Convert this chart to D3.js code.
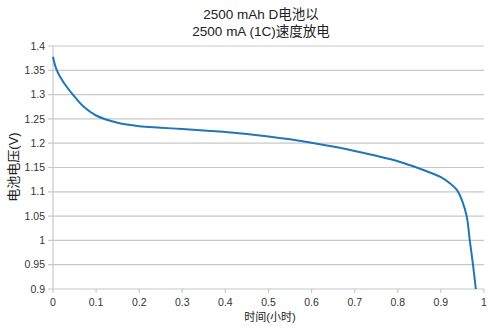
<!DOCTYPE html>
<html><head><meta charset="utf-8">
<script src="https://cdn.jsdelivr.net/npm/d3@7"></script>
<style>
body{margin:0;background:#fff;}
text{font-family:"Liberation Sans","Noto Sans CJK SC",sans-serif;}
</style></head>
<body><svg id="c" width="499" height="329"></svg>
<script>
const titleLines = ["2500 mAh D电池以", "2500 mA (1C)速度放电"];
const xLabel = "时间(小时)";
const yLabel = "电池电压(V)";
const xTicks = [0,0.1,0.2,0.3,0.4,0.5,0.6,0.7,0.8,0.9,1];
const yTicks = [0.9,0.95,1,1.05,1.1,1.15,1.2,1.25,1.3,1.35,1.4];
const timeH = [0,0.008,0.024,0.047,0.07,0.1,0.15,0.2,0.25,0.3,0.35,0.4,0.45,0.5,0.55,0.6,0.65,0.7,0.75,0.8,0.85,0.9,0.92,0.937,0.95,0.96,0.967,0.974,0.981];
const voltage = [1.378,1.352,1.326,1.299,1.276,1.257,1.242,1.235,1.232,1.229,1.226,1.223,1.219,1.214,1.208,1.201,1.193,1.184,1.174,1.163,1.148,1.13,1.118,1.104,1.08,1.049,1.0,0.953,0.9];

const svg = d3.select("#c");
const L=53, R=484, T=46, B=289;
const x = d3.scaleLinear().domain([0,1]).range([L,R]);
const y = d3.scaleLinear().domain([0.9,1.4]).range([B,T]);

svg.append("g").selectAll("line").data(yTicks).join("line")
  .attr("x1",L-5).attr("x2",R).attr("y1",d=>y(d)).attr("y2",d=>y(d))
  .attr("stroke","#c8c8c8").attr("stroke-width",1.2);
svg.append("line").attr("x1",L).attr("x2",L).attr("y1",T).attr("y2",B)
  .attr("stroke","#c8c8c8").attr("stroke-width",1.2);
svg.append("g").selectAll("line").data(xTicks).join("line")
  .attr("x1",d=>x(d)).attr("x2",d=>x(d)).attr("y1",B).attr("y2",B+4)
  .attr("stroke","#c8c8c8").attr("stroke-width",1.2);

const fmt = d=>String(+d.toFixed(2));
svg.append("g").selectAll("text").data(yTicks).join("text")
  .attr("x",45).attr("y",d=>y(d)).attr("dy","0.35em").attr("text-anchor","end")
  .attr("font-size",10.5).attr("fill","#333").text(fmt);
svg.append("g").selectAll("text").data(xTicks).join("text")
  .attr("x",d=>x(d)).attr("y",302).attr("dy","0.35em").attr("text-anchor","middle")
  .attr("font-size",10.5).attr("fill","#333").text(fmt);

const pts = timeH.map((t,i)=>[t,voltage[i]]);
svg.append("path").datum(pts)
  .attr("d", d3.line().x(d=>x(d[0])).y(d=>y(d[1])).curve(d3.curveCatmullRom.alpha(0.5)))
  .attr("fill","none").attr("stroke","#1f77b8").attr("stroke-width",2);

svg.append("g").selectAll("text").data(titleLines).join("text")
  .attr("x",261).attr("y",(d,i)=>14+i*17.5).attr("dy","0.35em").attr("text-anchor","middle")
  .attr("font-size",13.5).attr("fill","#222").text(d=>d);
svg.append("text").attr("x",270).attr("y",317).attr("dy","0.35em").attr("text-anchor","middle")
  .attr("font-size",11).attr("fill","#222").text(xLabel);
svg.append("text").attr("transform","translate(13,167) rotate(-90)").attr("dy","0.35em")
  .attr("text-anchor","middle").attr("font-size",13).attr("fill","#222").text(yLabel);
</script></body></html>
